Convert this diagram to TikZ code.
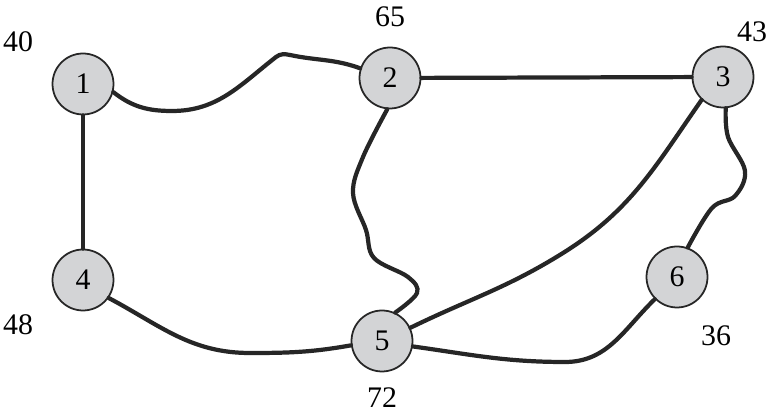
\documentclass[tikz,border=0pt]{standalone}
\usepackage{fontspec}
\setmainfont{Liberation Serif}
\usetikzlibrary{positioning}
\definecolor{nodegray}{RGB}{211,212,214}
\tikzset{
  vertex/.style={circle, draw=black!85, line width=1pt, fill=nodegray,
    minimum size=1.22cm, inner sep=0pt, font=\fontsize{17}{20}\selectfont},
  weight/.style={inner sep=0pt, font=\fontsize{17}{20}\selectfont},
  road/.style={line width=2.4pt, line cap=round, draw=black!85}
}

\begin{document}
\begin{tikzpicture}[x=0.02cm, y=0.02cm]
\useasboundingbox (0,0) rectangle (781,415);
% towns
\node[vertex] (n1) at (83,331) {1};
\node[vertex] (n2) at (390,337) {2};
\node[vertex] (n3) at (723,338) {3};
\node[vertex] (n4) at (83,135) {4};
\node[vertex] (n5) at (382,74) {5};
\node[vertex] (n6) at (677,138) {6};
% weights
\node[weight] (w1) at (18,373) {40};
\node[weight] (w2) at (390,398) {65};
\node[weight] (w3) at (752,383) {43};
\node[weight] (w4) at (18,90) {48};
\node[weight] (w5) at (382,17) {72};
\node[weight] (w6) at (716,79) {36};
% roads
\draw[road] (n1) -- (n4);
\draw[road] (n2) -- (n3);
\draw[road] (n1.-15) to[out=-38,in=180] (172,304) to[out=0,in=218] (276,358)
  to[out=38,in=168] (290,360) to[out=-12,in=160] (n2.162);
\draw[road] plot[smooth, tension=0.6] coordinates {(n2.-95) (363,258) (353,222)
  (366,185) (374,157) (408,138) (417,122) (n5.65)};
\draw[road] (n3.-133) to[out=-125,in=32] (563,162) to[out=212,in=26] (n5.25);
\draw[road] plot[smooth, tension=0.6] coordinates {(n3.-85) (728,278) (745,244)
  (735,219) (712,207) (n6.70)};
\draw[road] (n5.-10) to[out=-8,in=180] (565,53) to[out=0,in=224] (n6.-135);
\draw[road] (n4.-35) to[out=-28,in=180] (250,62) to[out=0,in=190] (n5.188);
\end{tikzpicture}
\end{document}
